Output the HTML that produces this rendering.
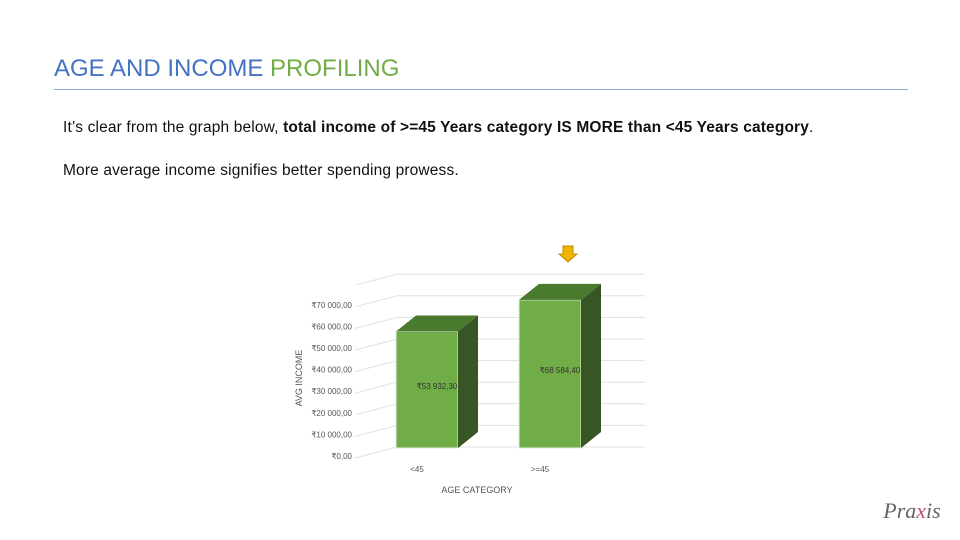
<!DOCTYPE html>
<html><head><meta charset="utf-8"><style>
body{margin:0;width:960px;height:540px;background:#fff;font-family:"Liberation Sans",sans-serif;overflow:hidden;position:relative}
.t{position:absolute;left:54px;top:55px;font-size:24px;color:#4472c4}
.t span{color:#70ad47}
.rule{position:absolute;left:54px;top:89px;width:854px;height:1px;background:#8eaadb}
.p{position:absolute;left:63px;font-size:15.5px;color:#111;letter-spacing:0.15px}
</style></head><body>
<div class="t">AGE AND INCOME <span>PROFILING</span></div>
<div class="rule"></div>
<div class="p" style="top:119px">It’s clear from the graph below, <b>total income of &gt;=45 Years category IS MORE than &lt;45 Years category</b>.</div>
<div class="p" style="top:162px">More average income signifies better spending prowess.</div>
<svg width="960" height="540" style="position:absolute;left:0;top:0">
<g id="g"></g>
<polygon points="563,246 573,246 573,254 577,254 568,262 559,254 563,254" fill="#f0b400" stroke="#c08a00" stroke-width="1"/>
<text x="302" y="378" font-size="9" fill="#555" transform="rotate(-90 302 378)" text-anchor="middle">AVG INCOME</text>
<text x="477" y="493" font-size="9" fill="#555" text-anchor="middle">AGE CATEGORY</text>
<text x="912" y="518" font-size="22" font-style="italic" fill="#666" text-anchor="middle" font-family="Liberation Serif">Pra<tspan fill="#c0506e">x</tspan>is</text>
</svg>
<script>
const categories=["<45",">=45"];
const values=[53932.30,68584.40];
const valueLabels=["₹53 932,30","₹68 584,40"];
const ticks=[0,10000,20000,30000,40000,50000,60000,70000];
const tickLabels=["₹0,00","₹10 000,00","₹20 000,00","₹30 000,00","₹40 000,00","₹50 000,00","₹60 000,00","₹70 000,00"];
const NS="http://www.w3.org/2000/svg",g=document.getElementById('g');
const s=0.00216,y0=448,dx=20,dy=-16;
const yF=v=>y0-v*s;
function mk(t,a){const e=document.createElementNS(NS,t);for(const k in a)e.setAttribute(k,a[k]);g.appendChild(e);return e;}
[...ticks,80000].forEach(v=>{
 const l=mk('polyline',{points:`355,${yF(v)+10} 397,${yF(v)-1} 645,${yF(v)-1}`,fill:'none',stroke:'#e0e0e0','stroke-width':1});
 
 
});
ticks.forEach((v,i)=>{
 const t=mk('text',{x:352,y:yF(v)+11,'font-size':8,fill:'#555','text-anchor':'end'});t.textContent=tickLabels[i];
 
 
});
const xs=[396,519],w=62;
values.forEach((v,i)=>{
 const x=xs[i],top=yF(v);
 const f=mk('rect',{x:x,y:top,width:w,height:y0-top,fill:'#70ad47',stroke:'#e2efda','stroke-width':1});
 
 
 const sd=mk('polygon',{points:`${x+w},${top} ${x+w+dx},${top+dy} ${x+w+dx},${y0+dy} ${x+w},${y0}`,fill:'#375623'});
 
 
 const tp=mk('polygon',{points:`${x},${top} ${x+dx},${top+dy} ${x+w+dx},${top+dy} ${x+w},${top}`,fill:'#4a7a2e'});
 
 
 const lb=mk('text',{x:x+w/2+10,y:top+(y0-top)/2-1,'font-size':8,fill:'#333','text-anchor':'middle'});lb.textContent=valueLabels[i];
 
 
 const c=mk('text',{x:x+w/2-10,y:472,'font-size':8,fill:'#555','text-anchor':'middle'});c.textContent=categories[i];
 
 
});
</script>
</body></html>
